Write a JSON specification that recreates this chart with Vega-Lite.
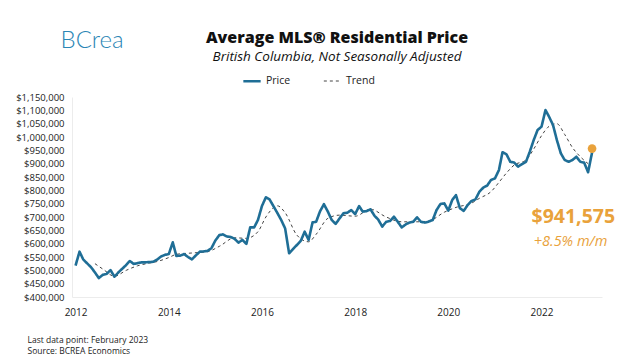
{
  "$schema": "https://vega.github.io/schema/vega-lite/v6.json",
  "width": 530,
  "height": 200,
  "autosize": {"type": "none"},
  "padding": {"left": 72, "top": 97, "right": 38, "bottom": 63},
  "background": "white",
  "title": {
    "text": "Average MLS® Residential Price",
    "subtitle": "British Columbia, Not Seasonally Adjusted",
    "anchor": "middle",
    "frame": "group",
    "font": "Open Sans",
    "fontSize": 16,
    "fontWeight": 800,
    "color": "#111111",
    "subtitleFont": "Open Sans",
    "subtitleFontSize": 13.5,
    "subtitleFontStyle": "italic",
    "subtitleColor": "#111111",
    "subtitlePadding": 4,
    "offset": -35
  },
  "config": {
    "view": {"stroke": null},
    "font": "Open Sans"
  },
  "datasets": {
    "series": [
      {"date": "2012-01-01", "series": "Price", "value": 518000},
      {"date": "2012-02-01", "series": "Price", "value": 570000},
      {"date": "2012-03-01", "series": "Price", "value": 541000},
      {"date": "2012-04-01", "series": "Price", "value": 526000},
      {"date": "2012-05-01", "series": "Price", "value": 512000},
      {"date": "2012-06-01", "series": "Price", "value": 492000},
      {"date": "2012-07-01", "series": "Price", "value": 471000},
      {"date": "2012-08-01", "series": "Price", "value": 483000},
      {"date": "2012-09-01", "series": "Price", "value": 487000},
      {"date": "2012-10-01", "series": "Price", "value": 501000},
      {"date": "2012-11-01", "series": "Price", "value": 476000},
      {"date": "2012-12-01", "series": "Price", "value": 492000},
      {"date": "2013-01-01", "series": "Price", "value": 506000},
      {"date": "2013-02-01", "series": "Price", "value": 520000},
      {"date": "2013-03-01", "series": "Price", "value": 535000},
      {"date": "2013-04-01", "series": "Price", "value": 524000},
      {"date": "2013-05-01", "series": "Price", "value": 527000},
      {"date": "2013-06-01", "series": "Price", "value": 530000},
      {"date": "2013-07-01", "series": "Price", "value": 530000},
      {"date": "2013-08-01", "series": "Price", "value": 531000},
      {"date": "2013-09-01", "series": "Price", "value": 532000},
      {"date": "2013-10-01", "series": "Price", "value": 540000},
      {"date": "2013-11-01", "series": "Price", "value": 552000},
      {"date": "2013-12-01", "series": "Price", "value": 558000},
      {"date": "2014-01-01", "series": "Price", "value": 561000},
      {"date": "2014-02-01", "series": "Price", "value": 605000},
      {"date": "2014-03-01", "series": "Price", "value": 554000},
      {"date": "2014-04-01", "series": "Price", "value": 555000},
      {"date": "2014-05-01", "series": "Price", "value": 561000},
      {"date": "2014-06-01", "series": "Price", "value": 550000},
      {"date": "2014-07-01", "series": "Price", "value": 541000},
      {"date": "2014-08-01", "series": "Price", "value": 556000},
      {"date": "2014-09-01", "series": "Price", "value": 570000},
      {"date": "2014-10-01", "series": "Price", "value": 571000},
      {"date": "2014-11-01", "series": "Price", "value": 573000},
      {"date": "2014-12-01", "series": "Price", "value": 583000},
      {"date": "2015-01-01", "series": "Price", "value": 612000},
      {"date": "2015-02-01", "series": "Price", "value": 632000},
      {"date": "2015-03-01", "series": "Price", "value": 635000},
      {"date": "2015-04-01", "series": "Price", "value": 627000},
      {"date": "2015-05-01", "series": "Price", "value": 625000},
      {"date": "2015-06-01", "series": "Price", "value": 618000},
      {"date": "2015-07-01", "series": "Price", "value": 604000},
      {"date": "2015-08-01", "series": "Price", "value": 614000},
      {"date": "2015-09-01", "series": "Price", "value": 599000},
      {"date": "2015-10-01", "series": "Price", "value": 661000},
      {"date": "2015-11-01", "series": "Price", "value": 661000},
      {"date": "2015-12-01", "series": "Price", "value": 689000},
      {"date": "2016-01-01", "series": "Price", "value": 741000},
      {"date": "2016-02-01", "series": "Price", "value": 774000},
      {"date": "2016-03-01", "series": "Price", "value": 766000},
      {"date": "2016-04-01", "series": "Price", "value": 740000},
      {"date": "2016-05-01", "series": "Price", "value": 715000},
      {"date": "2016-06-01", "series": "Price", "value": 688000},
      {"date": "2016-07-01", "series": "Price", "value": 657000},
      {"date": "2016-08-01", "series": "Price", "value": 564000},
      {"date": "2016-09-01", "series": "Price", "value": 580000},
      {"date": "2016-10-01", "series": "Price", "value": 595000},
      {"date": "2016-11-01", "series": "Price", "value": 611000},
      {"date": "2016-12-01", "series": "Price", "value": 645000},
      {"date": "2017-01-01", "series": "Price", "value": 614000},
      {"date": "2017-02-01", "series": "Price", "value": 680000},
      {"date": "2017-03-01", "series": "Price", "value": 682000},
      {"date": "2017-04-01", "series": "Price", "value": 722000},
      {"date": "2017-05-01", "series": "Price", "value": 748000},
      {"date": "2017-06-01", "series": "Price", "value": 720000},
      {"date": "2017-07-01", "series": "Price", "value": 689000},
      {"date": "2017-08-01", "series": "Price", "value": 674000},
      {"date": "2017-09-01", "series": "Price", "value": 695000},
      {"date": "2017-10-01", "series": "Price", "value": 714000},
      {"date": "2017-11-01", "series": "Price", "value": 716000},
      {"date": "2017-12-01", "series": "Price", "value": 726000},
      {"date": "2018-01-01", "series": "Price", "value": 711000},
      {"date": "2018-02-01", "series": "Price", "value": 741000},
      {"date": "2018-03-01", "series": "Price", "value": 720000},
      {"date": "2018-04-01", "series": "Price", "value": 722000},
      {"date": "2018-05-01", "series": "Price", "value": 729000},
      {"date": "2018-06-01", "series": "Price", "value": 705000},
      {"date": "2018-07-01", "series": "Price", "value": 690000},
      {"date": "2018-08-01", "series": "Price", "value": 664000},
      {"date": "2018-09-01", "series": "Price", "value": 682000},
      {"date": "2018-10-01", "series": "Price", "value": 685000},
      {"date": "2018-11-01", "series": "Price", "value": 701000},
      {"date": "2018-12-01", "series": "Price", "value": 682000},
      {"date": "2019-01-01", "series": "Price", "value": 661000},
      {"date": "2019-02-01", "series": "Price", "value": 672000},
      {"date": "2019-03-01", "series": "Price", "value": 679000},
      {"date": "2019-04-01", "series": "Price", "value": 682000},
      {"date": "2019-05-01", "series": "Price", "value": 699000},
      {"date": "2019-06-01", "series": "Price", "value": 682000},
      {"date": "2019-07-01", "series": "Price", "value": 679000},
      {"date": "2019-08-01", "series": "Price", "value": 683000},
      {"date": "2019-09-01", "series": "Price", "value": 689000},
      {"date": "2019-10-01", "series": "Price", "value": 726000},
      {"date": "2019-11-01", "series": "Price", "value": 749000},
      {"date": "2019-12-01", "series": "Price", "value": 751000},
      {"date": "2020-01-01", "series": "Price", "value": 724000},
      {"date": "2020-02-01", "series": "Price", "value": 764000},
      {"date": "2020-03-01", "series": "Price", "value": 782000},
      {"date": "2020-04-01", "series": "Price", "value": 733000},
      {"date": "2020-05-01", "series": "Price", "value": 723000},
      {"date": "2020-06-01", "series": "Price", "value": 745000},
      {"date": "2020-07-01", "series": "Price", "value": 760000},
      {"date": "2020-08-01", "series": "Price", "value": 766000},
      {"date": "2020-09-01", "series": "Price", "value": 795000},
      {"date": "2020-10-01", "series": "Price", "value": 810000},
      {"date": "2020-11-01", "series": "Price", "value": 818000},
      {"date": "2020-12-01", "series": "Price", "value": 839000},
      {"date": "2021-01-01", "series": "Price", "value": 845000},
      {"date": "2021-02-01", "series": "Price", "value": 876000},
      {"date": "2021-03-01", "series": "Price", "value": 943000},
      {"date": "2021-04-01", "series": "Price", "value": 935000},
      {"date": "2021-05-01", "series": "Price", "value": 907000},
      {"date": "2021-06-01", "series": "Price", "value": 904000},
      {"date": "2021-07-01", "series": "Price", "value": 889000},
      {"date": "2021-08-01", "series": "Price", "value": 898000},
      {"date": "2021-09-01", "series": "Price", "value": 907000},
      {"date": "2021-10-01", "series": "Price", "value": 945000},
      {"date": "2021-11-01", "series": "Price", "value": 989000},
      {"date": "2021-12-01", "series": "Price", "value": 1026000},
      {"date": "2022-01-01", "series": "Price", "value": 1039000},
      {"date": "2022-02-01", "series": "Price", "value": 1101000},
      {"date": "2022-03-01", "series": "Price", "value": 1076000},
      {"date": "2022-04-01", "series": "Price", "value": 1045000},
      {"date": "2022-05-01", "series": "Price", "value": 989000},
      {"date": "2022-06-01", "series": "Price", "value": 939000},
      {"date": "2022-07-01", "series": "Price", "value": 914000},
      {"date": "2022-08-01", "series": "Price", "value": 907000},
      {"date": "2022-09-01", "series": "Price", "value": 914000},
      {"date": "2022-10-01", "series": "Price", "value": 926000},
      {"date": "2022-11-01", "series": "Price", "value": 907000},
      {"date": "2022-12-01", "series": "Price", "value": 904000},
      {"date": "2023-01-01", "series": "Price", "value": 868000},
      {"date": "2023-02-01", "series": "Price", "value": 941575},
      {"date": "2012-06-01", "series": "Trend", "value": 525000},
      {"date": "2012-08-01", "series": "Trend", "value": 505000},
      {"date": "2012-11-01", "series": "Trend", "value": 478000},
      {"date": "2013-02-01", "series": "Trend", "value": 500000},
      {"date": "2013-05-01", "series": "Trend", "value": 517000},
      {"date": "2013-08-01", "series": "Trend", "value": 527000},
      {"date": "2013-10-01", "series": "Trend", "value": 533000},
      {"date": "2014-01-01", "series": "Trend", "value": 548000},
      {"date": "2014-03-01", "series": "Trend", "value": 560000},
      {"date": "2014-07-01", "series": "Trend", "value": 565000},
      {"date": "2014-11-01", "series": "Trend", "value": 570000},
      {"date": "2015-02-01", "series": "Trend", "value": 590000},
      {"date": "2015-06-01", "series": "Trend", "value": 622000},
      {"date": "2015-09-01", "series": "Trend", "value": 620000},
      {"date": "2015-12-01", "series": "Trend", "value": 645000},
      {"date": "2016-02-01", "series": "Trend", "value": 700000},
      {"date": "2016-04-01", "series": "Trend", "value": 735000},
      {"date": "2016-05-01", "series": "Trend", "value": 742000},
      {"date": "2016-07-01", "series": "Trend", "value": 716000},
      {"date": "2016-10-01", "series": "Trend", "value": 632000},
      {"date": "2017-01-01", "series": "Trend", "value": 607000},
      {"date": "2017-03-01", "series": "Trend", "value": 635000},
      {"date": "2017-06-01", "series": "Trend", "value": 695000},
      {"date": "2017-09-01", "series": "Trend", "value": 707000},
      {"date": "2018-01-01", "series": "Trend", "value": 703000},
      {"date": "2018-05-01", "series": "Trend", "value": 729000},
      {"date": "2018-09-01", "series": "Trend", "value": 700000},
      {"date": "2019-01-01", "series": "Trend", "value": 682000},
      {"date": "2019-05-01", "series": "Trend", "value": 682000},
      {"date": "2019-08-01", "series": "Trend", "value": 685000},
      {"date": "2019-12-01", "series": "Trend", "value": 718000},
      {"date": "2020-03-01", "series": "Trend", "value": 736000},
      {"date": "2020-07-01", "series": "Trend", "value": 752000},
      {"date": "2020-09-01", "series": "Trend", "value": 770000},
      {"date": "2020-12-01", "series": "Trend", "value": 795000},
      {"date": "2021-02-01", "series": "Trend", "value": 830000},
      {"date": "2021-04-01", "series": "Trend", "value": 865000},
      {"date": "2021-06-01", "series": "Trend", "value": 895000},
      {"date": "2021-09-01", "series": "Trend", "value": 914000},
      {"date": "2021-11-01", "series": "Trend", "value": 955000},
      {"date": "2022-01-01", "series": "Trend", "value": 1005000},
      {"date": "2022-03-01", "series": "Trend", "value": 1040000},
      {"date": "2022-05-01", "series": "Trend", "value": 1050000},
      {"date": "2022-07-01", "series": "Trend", "value": 1010000},
      {"date": "2022-09-01", "series": "Trend", "value": 960000},
      {"date": "2022-11-01", "series": "Trend", "value": 926000},
      {"date": "2023-01-01", "series": "Trend", "value": 900000}
    ],
    "last": [
      {"date": "2023-02-01", "value": 941575}
    ],
    "notes": [
      {"date": "2022-09-07", "value": 700000, "label": "$941,575", "kind": "price"},
      {"date": "2022-08-16", "value": 606000, "label": "+8.5% m/m", "kind": "change"}
    ]
  },
  "encoding": {
    "x": {
      "field": "date",
      "type": "temporal",
      "scale": {"domain": [{"year": 2011, "month": 12, "date": 4}, {"year": 2023, "month": 4, "date": 20}]},
      "axis": {
        "values": [
          {"year": 2012, "month": 1, "date": 1},
          {"year": 2014, "month": 1, "date": 1},
          {"year": 2016, "month": 1, "date": 1},
          {"year": 2018, "month": 1, "date": 1},
          {"year": 2020, "month": 1, "date": 1},
          {"year": 2022, "month": 1, "date": 1}
        ],
        "format": "%Y",
        "grid": false,
        "ticks": false,
        "domainColor": "#ececec",
        "domainWidth": 1,
        "labelFont": "Open Sans",
        "labelFontSize": 10,
        "labelColor": "#222222",
        "labelPadding": 10,
        "title": ["Last data point: February 2023", "Source: BCREA Economics"],
        "titleFont": "Open Sans",
        "titleFontSize": 8.5,
        "titleFontWeight": "normal",
        "titleColor": "#222222",
        "titleAlign": "left",
        "titleAnchor": "start",
        "titleBaseline": "alphabetic",
        "titleLineHeight": 11,
        "titleX": -45,
        "titleY": 45
      }
    },
    "y": {
      "field": "value",
      "type": "quantitative",
      "scale": {"domain": [400000, 1150000], "nice": false, "zero": false},
      "axis": {
        "values": [400000, 450000, 500000, 550000, 600000, 650000, 700000, 750000, 800000, 850000, 900000, 950000, 1000000, 1050000, 1100000, 1150000],
        "format": "$,.0f",
        "grid": false,
        "ticks": false,
        "domainColor": "#ececec",
        "labelFont": "Open Sans",
        "labelFontSize": 9.5,
        "labelColor": "#222222",
        "labelPadding": 8,
        "title": "BCrea",
        "titleFont": "Lato",
        "titleFontSize": 24,
        "titleFontWeight": 300,
        "titleColor": "#2b86b5",
        "titleAngle": 0,
        "titleAlign": "left",
        "titleBaseline": "alphabetic",
        "titleX": -12,
        "titleY": -50
      }
    }
  },
  "layer": [
    {
      "data": {"name": "series"},
      "transform": [{"filter": "datum.series === 'Trend'"}],
      "mark": {"type": "line", "interpolate": "monotone"},
      "encoding": {
        "color": {"field": "series", "type": "nominal", "scale": {"domain": ["Price", "Trend"], "range": ["#1f6e96", "#444444"]}, "legend": {"title": null, "orient": "none", "legendX": 170, "legendY": -26, "direction": "horizontal", "symbolType": "stroke", "symbolSize": 300, "labelFont": "Open Sans", "labelFontSize": 10.5, "labelColor": "#222222", "labelOffset": 4, "columnPadding": 30}},
        "strokeDash": {"field": "series", "type": "nominal", "scale": {"domain": ["Price", "Trend"], "range": [[1, 0], [3, 3]]}},
        "strokeWidth": {"field": "series", "type": "nominal", "scale": {"domain": ["Price", "Trend"], "range": [2.6, 1]}}
      }
    },
    {
      "data": {"name": "series"},
      "transform": [{"filter": "datum.series === 'Price'"}],
      "mark": {"type": "line", "strokeJoin": "round"},
      "encoding": {
        "color": {"field": "series", "type": "nominal"},
        "strokeDash": {"field": "series", "type": "nominal"},
        "strokeWidth": {"field": "series", "type": "nominal"}
      }
    },
    {
      "data": {"name": "last"},
      "mark": {"type": "point", "filled": true, "size": 75, "color": "#e9a23b", "opacity": 1, "yOffset": -4}
    },
    {
      "data": {"name": "notes"},
      "transform": [{"filter": "datum.kind === 'price'"}],
      "mark": {"type": "text", "font": "Open Sans", "fontSize": 19.5, "fontWeight": "bold", "color": "#e9a23b", "align": "center", "baseline": "middle"},
      "encoding": {"text": {"field": "label"}}
    },
    {
      "data": {"name": "notes"},
      "transform": [{"filter": "datum.kind === 'change'"}],
      "mark": {"type": "text", "font": "Open Sans", "fontSize": 14.5, "fontStyle": "italic", "color": "#e9a23b", "align": "center", "baseline": "middle"},
      "encoding": {"text": {"field": "label"}}
    }
  ]
}
